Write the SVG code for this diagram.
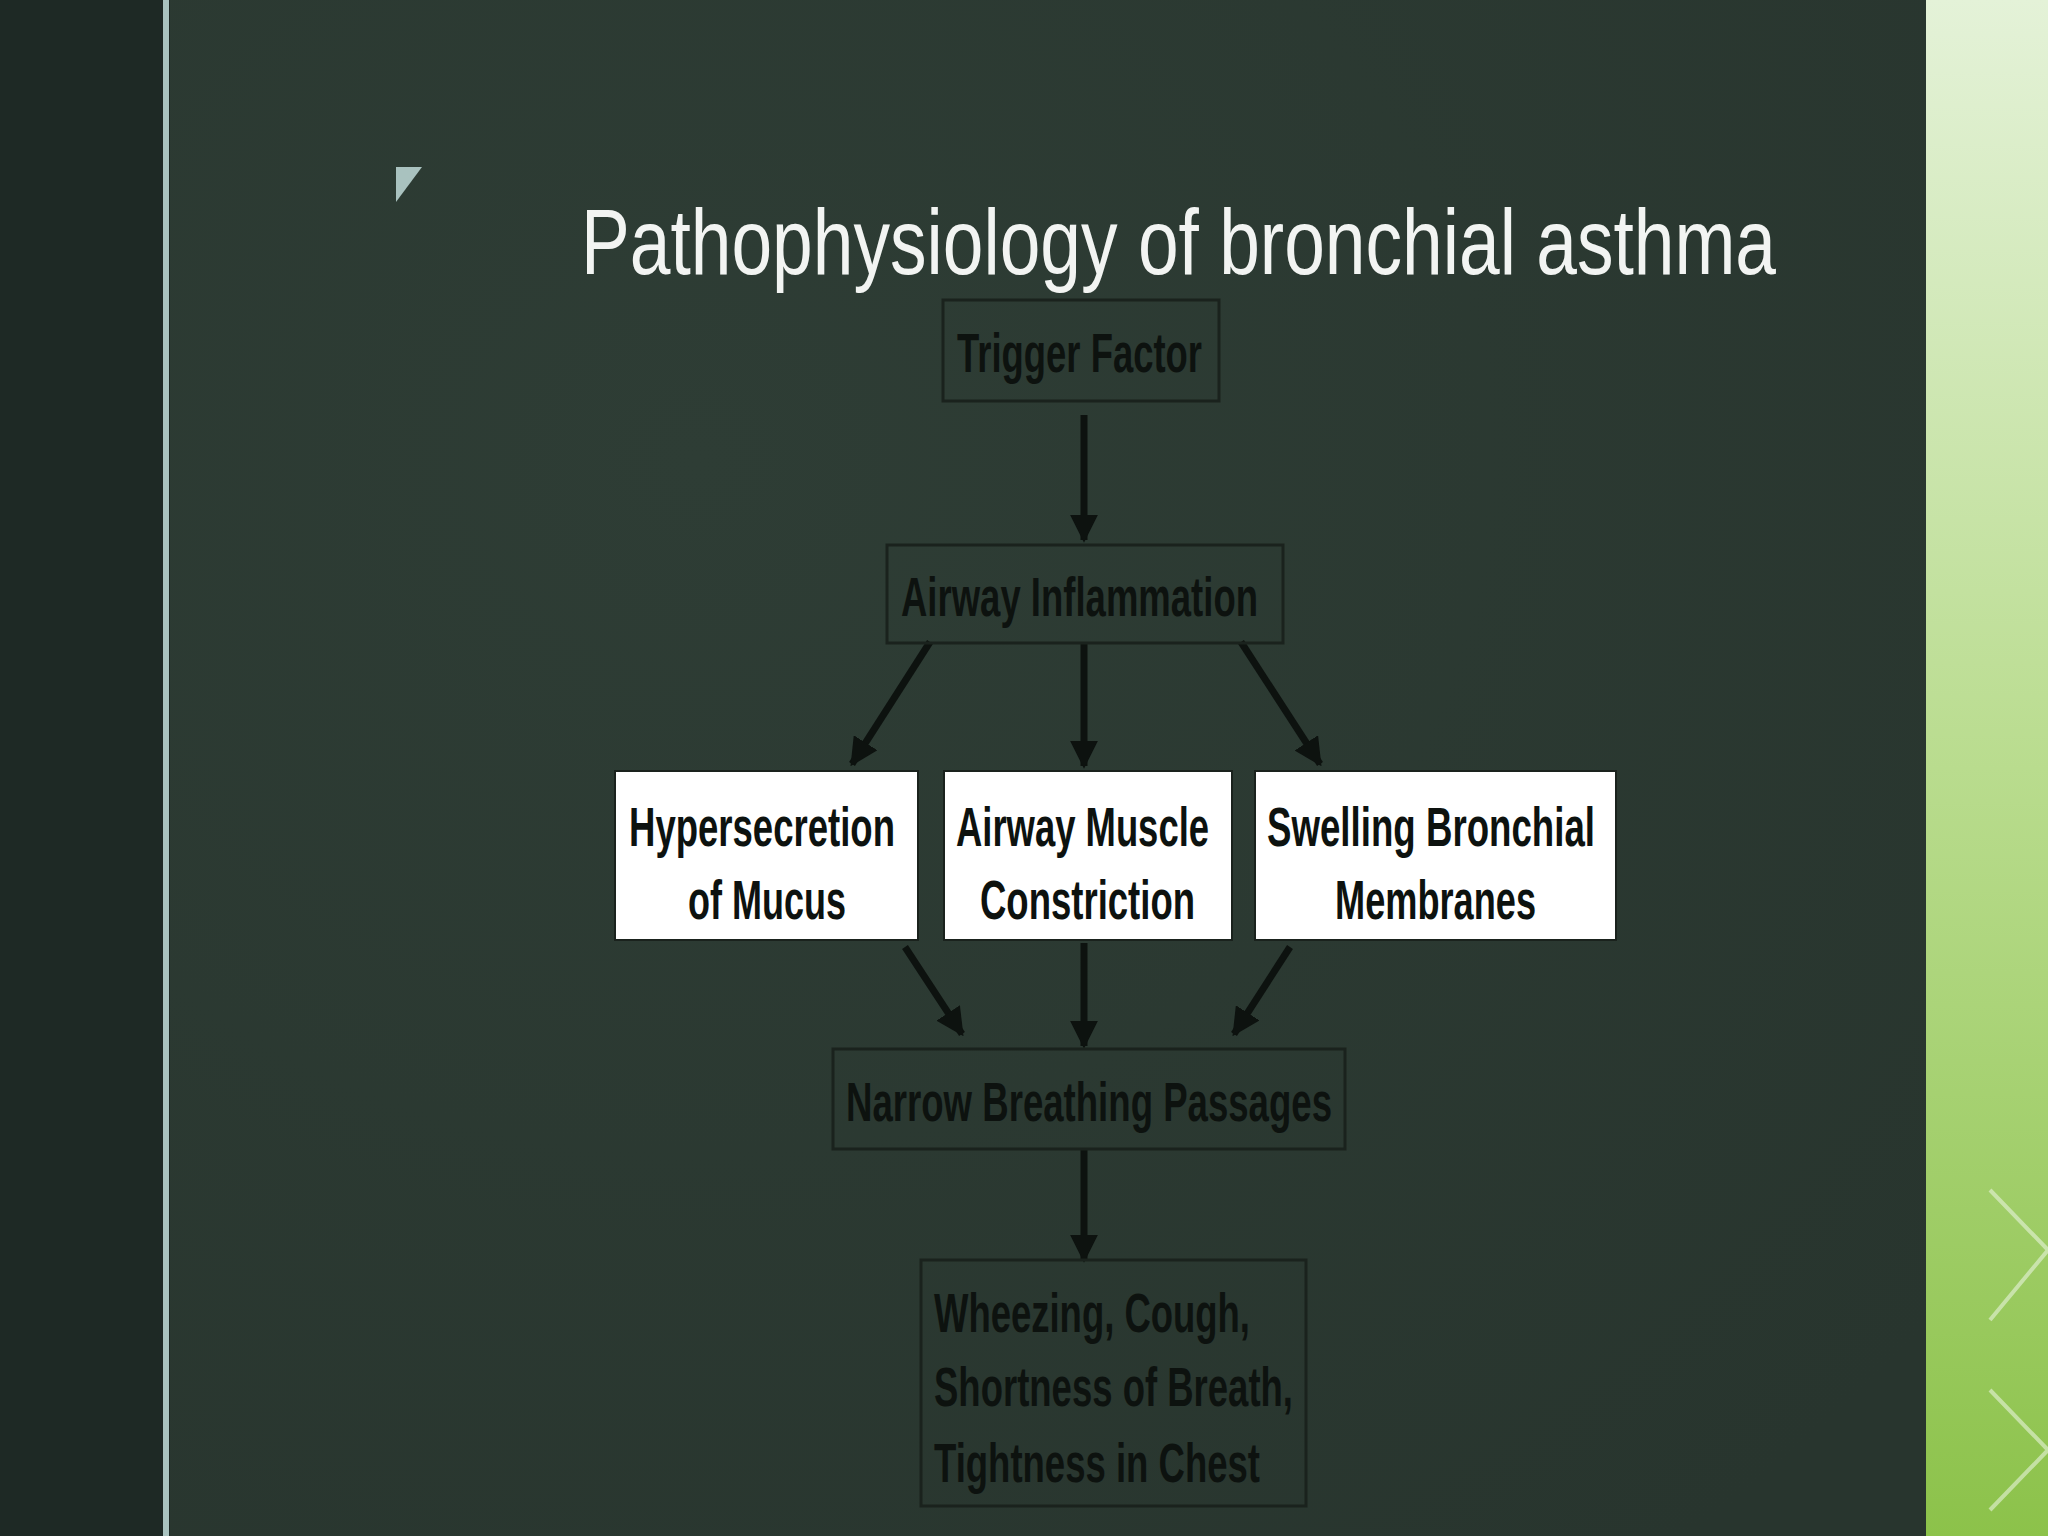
<svg xmlns="http://www.w3.org/2000/svg" width="2048" height="1536" viewBox="0 0 2048 1536">
<defs>
<linearGradient id="g" x1="0" y1="0" x2="0" y2="1"><stop offset="0" stop-color="#e4f2d8"/><stop offset="0.5" stop-color="#b9dc8e"/><stop offset="1" stop-color="#8cc24a"/></linearGradient>
<radialGradient id="bg" cx="0.3" cy="0.3" r="0.9"><stop offset="0" stop-color="#2e3d35"/><stop offset="1" stop-color="#28352e"/></radialGradient>
<marker id="ah" viewBox="0 0 10 10" refX="9" refY="5" markerWidth="4" markerHeight="4" orient="auto"><path d="M0,0L10,5L0,10z" fill="#0d120f"/></marker>
<style>
.box{fill:none;stroke:#1a221d;stroke-width:3}
.wbox{fill:#ffffff;stroke:#1a221d;stroke-width:2}
.t{font-family:"Liberation Sans Narrow","Liberation Sans",Arial,sans-serif;font-weight:bold;font-size:56px;fill:#0d120f}
.c line{stroke:#0d120f;stroke-width:7;marker-end:url(#ah)}
</style>
</defs>
<rect width="2048" height="1536" fill="#1e2925"/>
<rect x="170" y="0" width="1756" height="1536" fill="url(#bg)"/>
<rect x="163" y="0" width="6" height="1536" fill="#a9c2bf"/>
<rect x="1926" y="0" width="122" height="1536" fill="url(#g)"/>
<path d="M1990,1190L2048,1250L1990,1320M1990,1390L2048,1450L1990,1510" fill="none" stroke="#e8f3dc" stroke-width="4" opacity="0.6"/>
<path d="M396,167L422,167L396,202z" fill="#a9c2bf"/>
<text x="581" y="274" font-family="Liberation Sans,Arial,sans-serif" font-size="92" fill="#f2f4f2" textLength="1195" lengthAdjust="spacingAndGlyphs">Pathophysiology of bronchial asthma</text>
<g class="c">
<line x1="1084" y1="415" x2="1084" y2="540"/>
<line x1="930" y1="642" x2="852" y2="764"/>
<line x1="1084" y1="643" x2="1084" y2="766"/>
<line x1="1241" y1="642" x2="1320" y2="764"/>
<line x1="905" y1="947" x2="962" y2="1034"/>
<line x1="1084" y1="943" x2="1084" y2="1046"/>
<line x1="1290" y1="947" x2="1234" y2="1034"/>
<line x1="1084" y1="1149" x2="1084" y2="1260"/>
</g>
<g id="trigger"><rect class="box" x="943" y="300" width="276" height="101"/><text class="t" x="957" y="372" textLength="245" lengthAdjust="spacingAndGlyphs">Trigger Factor</text></g>
<g id="inflammation"><rect class="box" x="887" y="545" width="396" height="98"/><text class="t" x="901" y="616" textLength="357" lengthAdjust="spacingAndGlyphs">Airway Inflammation</text></g>
<g id="mucus"><rect class="wbox" x="615" y="771" width="303" height="169"/><text class="t" x="629" y="846" textLength="266" lengthAdjust="spacingAndGlyphs">Hypersecretion</text><text class="t" x="688" y="919" textLength="158" lengthAdjust="spacingAndGlyphs">of Mucus</text></g>
<g id="muscle"><rect class="wbox" x="944" y="771" width="288" height="169"/><text class="t" x="956" y="846" textLength="253" lengthAdjust="spacingAndGlyphs">Airway Muscle</text><text class="t" x="980" y="919" textLength="215" lengthAdjust="spacingAndGlyphs">Constriction</text></g>
<g id="swelling"><rect class="wbox" x="1255" y="771" width="361" height="169"/><text class="t" x="1267" y="846" textLength="328" lengthAdjust="spacingAndGlyphs">Swelling Bronchial</text><text class="t" x="1335" y="919" textLength="201" lengthAdjust="spacingAndGlyphs">Membranes</text></g>
<g id="narrow"><rect class="box" x="833" y="1049" width="512" height="100"/><text class="t" x="846" y="1121" textLength="486" lengthAdjust="spacingAndGlyphs">Narrow Breathing Passages</text></g>
<g id="symptoms"><rect class="box" x="921" y="1260" width="385" height="246"/><text class="t" x="934" y="1332" textLength="316" lengthAdjust="spacingAndGlyphs">Wheezing, Cough,</text><text class="t" x="934" y="1406" textLength="359" lengthAdjust="spacingAndGlyphs">Shortness of Breath,</text><text class="t" x="934" y="1482" textLength="326" lengthAdjust="spacingAndGlyphs">Tightness in Chest</text></g>
</svg>
